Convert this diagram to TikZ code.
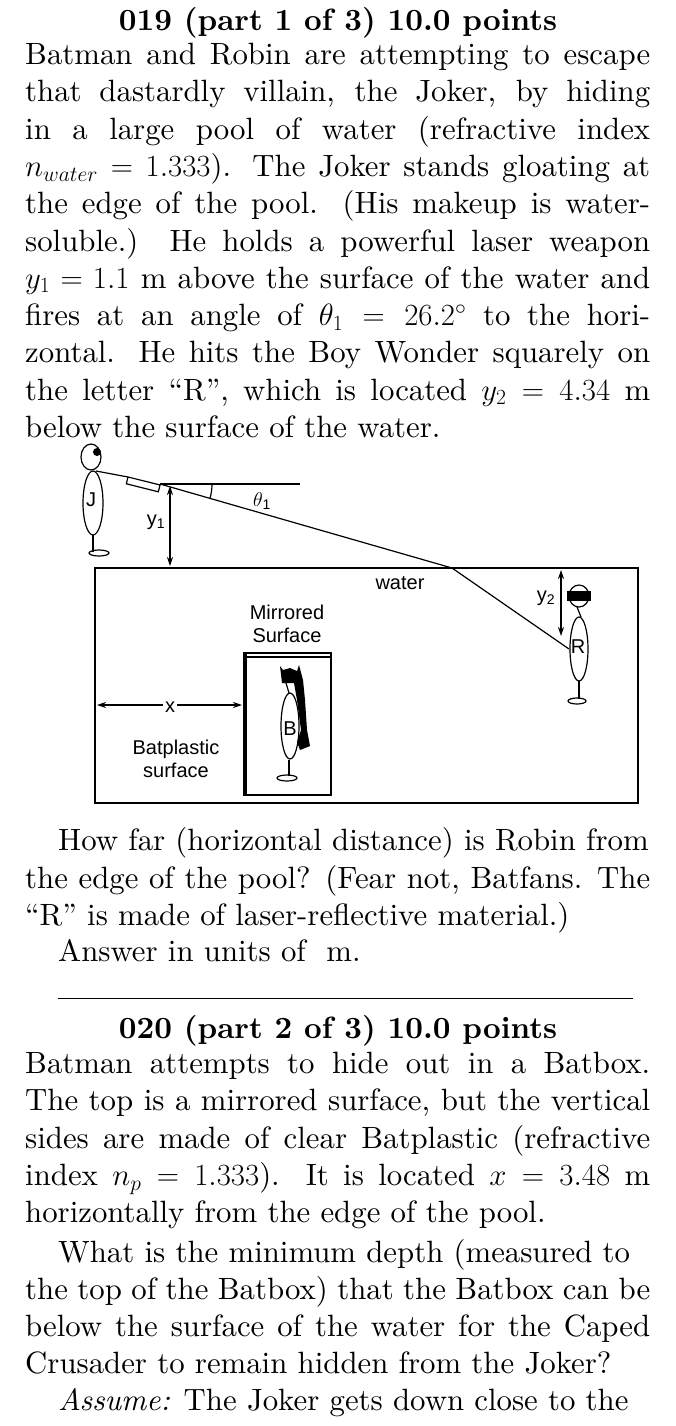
\RequirePackage{fix-cm}
\documentclass[tikz,border=0pt]{standalone}
\usepackage{fontspec}
\setmainfont{lmroman10}[Extension=.otf,UprightFont=*-regular,BoldFont=*-bold,ItalicFont=*-italic]
\newfontfamily\hv{Liberation Sans}
\usetikzlibrary{arrows.meta}
\begin{document}
\begin{tikzpicture}[x=1pt,y=1pt,
  para/.style={anchor=north west,inner sep=0pt,text width=625pt,align=justify,font=\fontsize{30.8}{37.3}\selectfont},
  head/.style={anchor=north,inner sep=0pt,font=\fontsize{30.8}{37.3}\selectfont\bfseries},
  lbl/.style={font=\hv\fontsize{20}{23}\selectfont,inner sep=0pt},
  ln/.style={line width=1.2pt},
  dim/.style={line width=1.2pt,{Stealth[length=9pt,width=6pt]}-{Stealth[length=9pt,width=6pt]}}]
\useasboundingbox (0,0) rectangle (676,-1426);
\fill[white] (0,0) rectangle (676,-1426);
\node[head] (h1) at (338,-7) {019 (part 1 of 3) 10.0 points};
\node[para] (p1) at (25,-43) {Batman and Robin are attempting to escape\linebreak
that dastardly villain, the Joker, by hiding\linebreak
in a large pool of water (refractive index\linebreak
$n_{water}=1.333$). The Joker stands gloating at\linebreak
the edge of the pool. (His makeup is water-\linebreak
soluble.) He holds a powerful laser weapon\linebreak
$y_1=1.1$ m above the surface of the water and\linebreak
fires at an angle of $\theta_1 = 26.2^\circ$ to the hori-\linebreak
zontal. He hits the Boy Wonder squarely on\linebreak
the letter ``R'', which is located $y_2 = 4.34$ m\linebreak
below the surface of the water.};
% diagram
\draw[line width=2pt] (95,-568) rectangle (638,-803);
% Joker
\draw[ln] (91,-457) circle[x radius=10,y radius=13];
\fill (97,-452) circle (4);
\draw[ln] (93,-503) ellipse[x radius=10,y radius=32];
\draw[ln] (93,-535) -- (93,-552);
\draw[ln] (99,-553) ellipse[x radius=10,y radius=3];
\node[lbl] (J) at (91,-500) {J};
\coordinate (jh) at (96,-471);
\coordinate (gun) at (160,-484);
\draw[ln] (jh) -- (128,-477);
\draw[ln,rotate around={-14:(128,-477)}] (128,-477) rectangle (161,-484);
\coordinate (hz) at (300,-484);
\coordinate (surf) at (452,-568);
\coordinate (rb) at (569,-649);
\draw[ln] (gun) -- (hz);
\draw[ln] (gun) -- (surf) -- (rb);
\draw[ln] (212,-484) arc[start angle=0,end angle=-16.7,radius=52];
\node[lbl] (t1) at (262,-501) {$\theta$\textsubscript{1}};
\coordinate (y1a) at (170,-486);
\coordinate (y1b) at (170,-566);
\draw[dim] (y1a) -- (y1b);
\node[lbl] (y1) at (156,-522) {y\textsubscript{1}};
\node[lbl] (water) at (400,-583) {water};
% Robin
\draw[ln] (579,-649) ellipse[x radius=9,y radius=32];
\draw[ln] (579,-596) circle[x radius=10,y radius=11];
\fill (567,-591) rectangle (591,-601);
\draw[ln] (577,-607) -- (581,-617);
\draw[ln] (579,-681) -- (579,-699);
\draw[ln] (577,-701) ellipse[x radius=9,y radius=3];
\node[lbl] (R) at (578,-647) {R};
\coordinate (y2a) at (561,-570);
\coordinate (y2b) at (561,-636);
\draw[dim] (y2a) -- (y2b);
\node[lbl] (y2) at (546,-598) {y\textsubscript{2}};
% Batbox
\draw[ln] (244,-653) rectangle (331,-795);
\draw[line width=3pt] (245,-653) -- (245,-795);
\draw[ln] (246,-657) -- (331,-657);
\node[lbl,align=center] (mir) at (287,-624) {Mirrored\\Surface};
\node[lbl,align=center] (bp) at (176,-759) {Batplastic\\surface};
\coordinate (xa) at (97,-705);
\coordinate (xb) at (242,-705);
\draw[dim] (xa) -- (xb);
\node[lbl,fill=white,inner sep=2pt] (xl) at (170,-707) {x};
% Batman
\draw[ln] (290,-726) ellipse[x radius=9,y radius=33];
\draw[ln] (289,-760) -- (289,-776);
\draw[ln] (287,-778) ellipse[x radius=10,y radius=3];
\draw[ln] (289,-693) -- (286,-683);
\fill (280,-666) -- (283,-670) -- (290,-668) -- (297,-671) -- (299,-665) -- (303,-680) -- (305,-700) -- (307,-730) -- (310,-746) -- (300,-750) -- (297,-742) -- (301,-730) -- (297,-700) -- (294,-683) -- (282,-683) -- cycle;
\node[lbl] (B) at (290,-729) {B};
% second part
\node[para,text width=592pt] (p2) at (58,-827) {How far (horizontal distance) is Robin from};
\node[para] (p2b) at (25,-865) {the edge of the pool? (Fear not, Batfans. The\linebreak
``R'' is made of laser-reflective material.)};
\node[para,align=left] (ans) at (58,-939) {Answer in units of \ m.};
\draw[line width=1pt] (58,-998) -- (633,-998);
\node[head] (h2) at (338,-1015) {020 (part 2 of 3) 10.0 points};
\node[para] (p3) at (25,-1052) {Batman attempts to hide out in a Batbox.\linebreak
The top is a mirrored surface, but the vertical\linebreak
sides are made of clear Batplastic (refractive\linebreak
index $n_p = 1.333$). It is located $x = 3.48$ m\linebreak
horizontally from the edge of the pool.\hfill\null};
\node[para,text width=592pt] (p4) at (58,-1239) {What is the minimum depth (measured to};
\node[para] (p5) at (25,-1276) {the top of the Batbox) that the Batbox can be\linebreak
below the surface of the water for the Caped\linebreak
Crusader to remain hidden from the Joker?};
\node[para,text width=592pt] (p6) at (58,-1388) {\textit{Assume:} The Joker gets down close to the};
\end{tikzpicture}
\end{document}
